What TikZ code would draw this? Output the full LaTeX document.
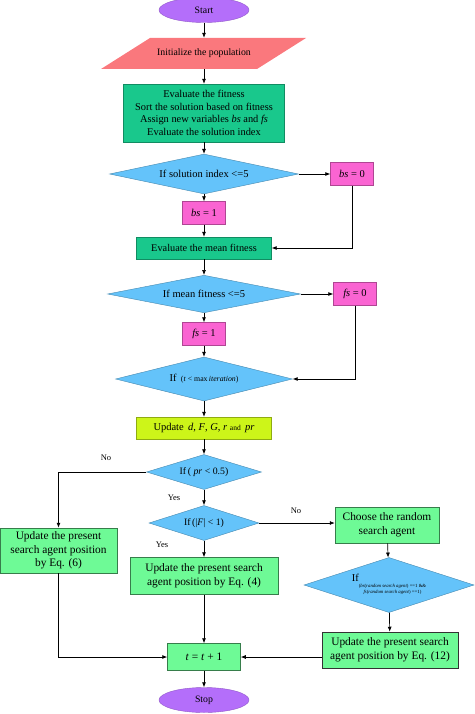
\documentclass[tikz,border=0pt]{standalone}
\usepackage{fontspec}
\setmainfont{Liberation Serif}
\usetikzlibrary{shapes.geometric,arrows.meta}
\definecolor{cpurple}{RGB}{180,110,250}
\definecolor{csalmon}{RGB}{250,120,125}
\definecolor{cteal}{RGB}{25,200,140}
\definecolor{cblue}{RGB}{100,195,250}
\definecolor{cpink}{RGB}{250,100,210}
\definecolor{clime}{RGB}{205,245,25}
\definecolor{cgreen}{RGB}{110,250,150}
\tikzset{
  base/.style={inner sep=1pt, align=center, font=\fontsize{9.8}{11.5}\selectfont},
  term/.style={base, ellipse, fill=cpurple, draw=cpurple!80!black, line width=0.4pt, minimum width=90, minimum height=25},
  tealbox/.style={base, rectangle, fill=cteal, draw=cteal!70!black, line width=0.4pt},
  pinkbox/.style={base, rectangle, fill=cpink, draw=cpink!70!black, line width=0.4pt, minimum width=43, minimum height=23},
  limebox/.style={base, rectangle, fill=clime, draw=clime!70!black, line width=0.4pt},
  greenbox/.style={base, rectangle, fill=cgreen, draw=cgreen!50!black, line width=0.5pt, font=\fontsize{11.4}{13.5}\selectfont},
  dia/.style={base, diamond, fill=cblue, draw=cblue!70!black, line width=0.4pt, aspect=3},
  arr/.style={-{Latex[length=5pt,width=4pt]}, line width=0.7pt, black},
  ln/.style={line width=0.7pt, black},
  lbl/.style={inner sep=0pt, font=\fontsize{8.5}{10}\selectfont}
}
\begin{document}
\begin{tikzpicture}[x=1pt,y=-1pt]
\useasboundingbox (0,0) rectangle (474,714);
% start
\node[term] (start) at (204,10) {Start};
% parallelogram
\fill[csalmon] (101,69) -- (150,38) -- (306,38) -- (257,69) -- cycle;
\node[base, minimum width=150, minimum height=31] (init) at (204,53.5) {Initialize the population};
% evaluate block
\node[tealbox, minimum width=161, minimum height=58, font=\fontsize{10.4}{12.6}\selectfont] (eval) at (204,113)
  {Evaluate the fitness\\Sort the solution based on fitness\\Assign new variables \textit{bs} and \textit{fs}\\Evaluate the solution index};
% diamond 1
\node[dia, minimum width=189, minimum height=34, font=\fontsize{10.5}{12}\selectfont] (d1) at (204,174) {If solution index <=5};
\node[pinkbox, font=\fontsize{10.5}{12}\selectfont] (bs0) at (352,174) {\textit{bs} = 0};
\node[pinkbox, font=\fontsize{10.5}{12}\selectfont] (bs1) at (204,213) {\textit{bs} = 1};
\node[tealbox, minimum width=135, minimum height=22, font=\fontsize{10.3}{12}\selectfont] (mean) at (204,248) {Evaluate the mean fitness};
% diamond 2
\node[dia, minimum width=193, minimum height=36, font=\fontsize{10.5}{12}\selectfont] (d2) at (204,294) {If mean fitness <=5};
\node[pinkbox, font=\fontsize{10.5}{12}\selectfont] (fs0) at (355,294) {\textit{fs} = 0};
\node[pinkbox, font=\fontsize{10.5}{12}\selectfont] (fs1) at (204,334) {\textit{fs} = 1};
% diamond 3
\node[dia, minimum width=177, minimum height=44] (d3) at (204,379)
  {\fontsize{10.5}{12}\selectfont If\, {\fontsize{7.8}{9}\selectfont(\textit{t} < max\,\textit{iteration})}};
% update
\node[limebox, minimum width=135, minimum height=22] (upd) at (204,428)
  {\fontsize{10.5}{12}\selectfont Update\, \textit{d}, \textit{F}, \textit{G}, \textit{r} {\fontsize{7.5}{9}\selectfont and}\, \textit{pr}};
% diamond 4
\node[dia, minimum width=115, minimum height=35] (d4) at (204,472) {If\,( \textit{pr} < 0.5)};
% diamond 5
\node[dia, minimum width=110, minimum height=35] (d5) at (204,523) {If\,(|\textit{F}| < 1)};
% left box
\node[greenbox, minimum width=117, minimum height=45] (eq6) at (58.5,550.5)
  {Update the present\\search agent position\\by Eq. (6)};
% eq4 box
\node[greenbox, minimum width=148, minimum height=37] (eq4) at (204,576)
  {Update the present search\\agent position by Eq. (4)};
% choose box
\node[greenbox, minimum width=104, minimum height=36] (choose) at (387,525)
  {Choose the random\\search agent};
% diamond 6
\node[dia, minimum width=170, minimum height=55] (d6) at (389,585)
  {\fontsize{10.5}{12}\selectfont If\raisebox{-6pt}{\fontsize{4.8}{5.8}\selectfont\begin{tabular}[t]{@{}c@{}}(\textit{bs}(\textit{random search agent}) ==1 \&\&\\\textit{fs}(\textit{random search agent}) ==1)\end{tabular}}};
% eq12 box
\node[greenbox, minimum width=136, minimum height=36, draw=black!80] (eq12) at (390,650)
  {Update the present search\\agent position by Eq. (12)};
% t = t+1
\node[greenbox, minimum width=73, minimum height=27] (tt) at (204,657) {\textit{t} = \textit{t} + 1};
% stop
\node[term] (stop) at (204,700) {Stop};
% labels
\node[lbl] (no1) at (106,458) {No};
\node[lbl] (yes1) at (174,498) {Yes};
\node[lbl] (no2) at (296,511) {No};
\node[lbl] (yes2) at (162,545) {Yes};
% connectors
\draw[arr] (start) -- (init);
\draw[arr] (init) -- (eval);
\draw[arr] (eval) -- (d1);
\draw[arr] (d1.east) -- (bs0.west);
\draw[arr] (d1) -- (bs1);
\draw[arr] (bs1) -- (mean);
\draw[arr] (bs0.south) |- (mean.east);
\draw[arr] (mean) -- (d2);
\draw[arr] (d2.east) -- (fs0.west);
\draw[arr] (d2) -- (fs1);
\draw[arr] (fs1) -- (d3);
\draw[arr] (fs0.south) |- (d3.east);
\draw[arr] (d3) -- (upd);
\draw[arr] (upd) -- (d4);
\draw[arr] (d4.west) -| (eq6.north);
\draw[arr] (d4) -- (d5);
\draw[arr] (d5.east) -- (d5.east -| choose.west);
\draw[arr] (d5) -- (eq4);
\draw[arr] (choose) -- (d6);
\draw[arr] (d6) -- (eq12);
\draw[arr] (eq6.south) |- (tt.west);
\draw[arr] (eq4) -- (tt);
\draw[arr] (eq12.west |- tt.east) -- (tt.east);
\draw[arr] (tt) -- (stop);
\end{tikzpicture}
\end{document}
